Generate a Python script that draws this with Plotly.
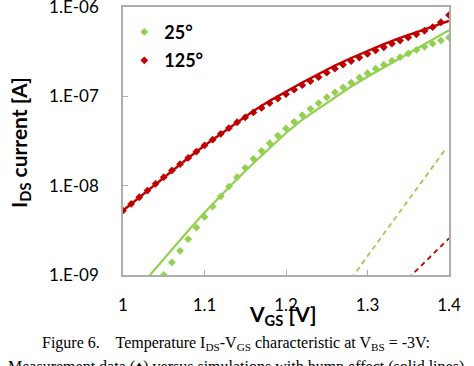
import plotly.graph_objects as go

# Values; currents given as log10(I_DS / A)
vgs_meas_red = [1.00, 1.01, 1.02, 1.03, 1.04, 1.05, 1.06, 1.07, 1.08, 1.09,
                1.10, 1.11, 1.12, 1.13, 1.14, 1.15, 1.16, 1.17, 1.18, 1.19,
                1.20, 1.21, 1.22, 1.23, 1.24, 1.25, 1.26, 1.27, 1.28, 1.29,
                1.30, 1.31, 1.32, 1.33, 1.34, 1.35, 1.36, 1.37, 1.38, 1.39, 1.40]
log_ids_meas_red = [-8.28, -8.205, -8.13, -8.055, -7.98, -7.905, -7.83, -7.76, -7.69, -7.62,
                    -7.55, -7.485, -7.42, -7.355, -7.29, -7.235, -7.18, -7.13, -7.075, -7.025,
                    -6.975, -6.925, -6.875, -6.83, -6.785, -6.735, -6.69, -6.645, -6.605, -6.565,
                    -6.525, -6.485, -6.45, -6.41, -6.375, -6.34, -6.305, -6.265, -6.225, -6.17, -6.09]

vgs_meas_green = [1.05, 1.06, 1.07, 1.08, 1.09, 1.10, 1.11, 1.12, 1.13, 1.14,
                  1.15, 1.16, 1.17, 1.18, 1.19, 1.20, 1.21, 1.22, 1.23, 1.24,
                  1.25, 1.26, 1.27, 1.28, 1.29, 1.30, 1.31, 1.32, 1.33, 1.34,
                  1.35, 1.36, 1.37, 1.38, 1.39, 1.40]
log_ids_meas_green = [-9.0, -8.86, -8.73, -8.60, -8.47, -8.35, -8.235, -8.12, -8.01, -7.906,
                      -7.80, -7.70, -7.61, -7.525, -7.44, -7.36, -7.285, -7.21, -7.14, -7.075,
                      -7.01, -6.955, -6.90, -6.845, -6.79, -6.74, -6.69, -6.645, -6.60, -6.56,
                      -6.52, -6.48, -6.445, -6.41, -6.375, -6.34]

vgs_sim_red = [1.00, 1.02, 1.04, 1.06, 1.08, 1.10, 1.12, 1.14, 1.16, 1.18, 1.20,
               1.22, 1.24, 1.26, 1.28, 1.30, 1.32, 1.34, 1.36, 1.38, 1.40]
log_ids_sim_red = [-8.28, -8.13, -7.98, -7.83, -7.69, -7.55, -7.42, -7.29, -7.165, -7.05, -6.945,
                   -6.845, -6.75, -6.655, -6.57, -6.49, -6.415, -6.345, -6.28, -6.215, -6.155]

vgs_sim_green = [1.02, 1.04, 1.06, 1.08, 1.10, 1.12, 1.14, 1.16, 1.18, 1.20,
                 1.22, 1.24, 1.26, 1.28, 1.30, 1.32, 1.34, 1.36, 1.38, 1.40]
log_ids_sim_green = [-9.14, -8.925, -8.715, -8.505, -8.30, -8.11, -7.925, -7.75, -7.575, -7.41,
                     -7.26, -7.135, -7.01, -6.89, -6.78, -6.675, -6.57, -6.47, -6.365, -6.26]

vgs_nohump_green = [1.28, 1.30, 1.32, 1.34, 1.36, 1.38, 1.395]
log_ids_nohump_green = [-9.04, -8.79, -8.54, -8.29, -8.04, -7.79, -7.60]

vgs_nohump_red = [1.35, 1.375, 1.40]
log_ids_nohump_red = [-9.04, -8.81, -8.59]

y_tick_vals = [1e-9, 1e-8, 1e-7, 1e-6]
y_tick_text = ["1.E-09", "1.E-08", "1.E-07", "1.E-06"]
x_tick_vals = [1.0, 1.1, 1.2, 1.3, 1.4]
x_tick_text = ["1", "1.1", "1.2", "1.3", "1.4"]

GREEN = "#92D050"
RED = "#C00000"
AXIS = "#ADADAD"


def lin(vals):
    return [10 ** v for v in vals]


fig = go.Figure()

fig.add_trace(go.Scatter(x=vgs_sim_green, y=lin(log_ids_sim_green), mode="lines",
                         line=dict(color=GREEN, width=2.2), showlegend=False))
fig.add_trace(go.Scatter(x=vgs_sim_red, y=lin(log_ids_sim_red), mode="lines",
                         line=dict(color=RED, width=2.4), showlegend=False))
fig.add_trace(go.Scatter(x=vgs_nohump_green, y=lin(log_ids_nohump_green), mode="lines",
                         line=dict(color=GREEN, width=1.8, dash="5px,4px"), showlegend=False))
fig.add_trace(go.Scatter(x=vgs_nohump_red, y=lin(log_ids_nohump_red), mode="lines",
                         line=dict(color=RED, width=1.8, dash="5px,4px"), showlegend=False))

fig.add_trace(go.Scatter(x=vgs_meas_green, y=lin(log_ids_meas_green), mode="markers",
                         name="25°", legendgroup="g25",
                         marker=dict(symbol="diamond", size=6, color=GREEN)))
fig.add_trace(go.Scatter(x=vgs_meas_red, y=lin(log_ids_meas_red), mode="markers",
                         name="125°", legendgroup="g125",
                         marker=dict(symbol="diamond", size=6, color=RED)))

fig.update_layout(
    width=474, height=366,
    margin=dict(l=123, r=25, t=7, b=91, autoexpand=False),
    paper_bgcolor="white", plot_bgcolor="white",
    font=dict(family="Lato", color="black"),
    legend=dict(x=0.004, y=0.975, xanchor="left", yanchor="top",
                bgcolor="rgba(0,0,0,0)", tracegroupgap=2,
                font=dict(family="Lato", size=18, color="black", weight="bold"),
                itemwidth=30),
    xaxis=dict(range=[1.0, 1.4], tickvals=x_tick_vals, ticktext=x_tick_text,
               showgrid=False, zeroline=False, showline=True, mirror=True,
               linecolor=AXIS, linewidth=1.5, ticks="inside", ticklen=5,
               tickcolor=AXIS, tickwidth=1, automargin=False,
               ticklabeloverflow="allow",
               tickfont=dict(family="Lato", size=17, color="black"),
               ticklabelstandoff=14),
    yaxis=dict(type="log", range=[-9.001, -5.999], tickvals=y_tick_vals, ticktext=y_tick_text,
               showgrid=False, zeroline=False, showline=True, mirror=True,
               linecolor=AXIS, linewidth=1.5, ticks="inside", ticklen=5,
               tickcolor=AXIS, tickwidth=1, automargin=False,
               ticklabeloverflow="allow",
               tickfont=dict(family="Lato", size=17, color="black"),
               ticklabelstandoff=19),
)

fig.add_annotation(text="<b>I<sub>DS</sub> current [A]</b>", xref="paper", yref="paper",
                   x=-103 / 326, y=(275 - 143) / 268, xanchor="center", yanchor="middle",
                   textangle=-90, showarrow=False,
                   font=dict(family="Lato", size=21, color="black"))
fig.add_annotation(text="<b>V<sub>GS</sub> [V]</b>", xref="paper", yref="paper",
                   x=(283 - 123) / 326, y=-(315 - 275) / 268, xanchor="center", yanchor="middle",
                   showarrow=False,
                   font=dict(family="Lato", size=21, color="black"))
fig.add_annotation(text="Figure 6.    Temperature I<sub>DS</sub>-V<sub>GS</sub> characteristic at V<sub>BS</sub> = -3V:",
                   xref="paper", yref="paper",
                   x=(236 - 123) / 326, y=-(343 - 275) / 268, xanchor="center", yanchor="middle",
                   showarrow=False,
                   font=dict(family="Liberation Serif", size=16, color="black"))
fig.add_annotation(text="Measurement data (♦) versus simulations with hump effect (solid lines)",
                   xref="paper", yref="paper",
                   x=(236 - 123) / 326, y=-(367 - 275) / 268, xanchor="center", yanchor="middle",
                   showarrow=False,
                   font=dict(family="Liberation Serif", size=16, color="black"))

fig.write_html("out.html", config={"displayModeBar": False},
               post_script="document.body.style.margin='0';")
